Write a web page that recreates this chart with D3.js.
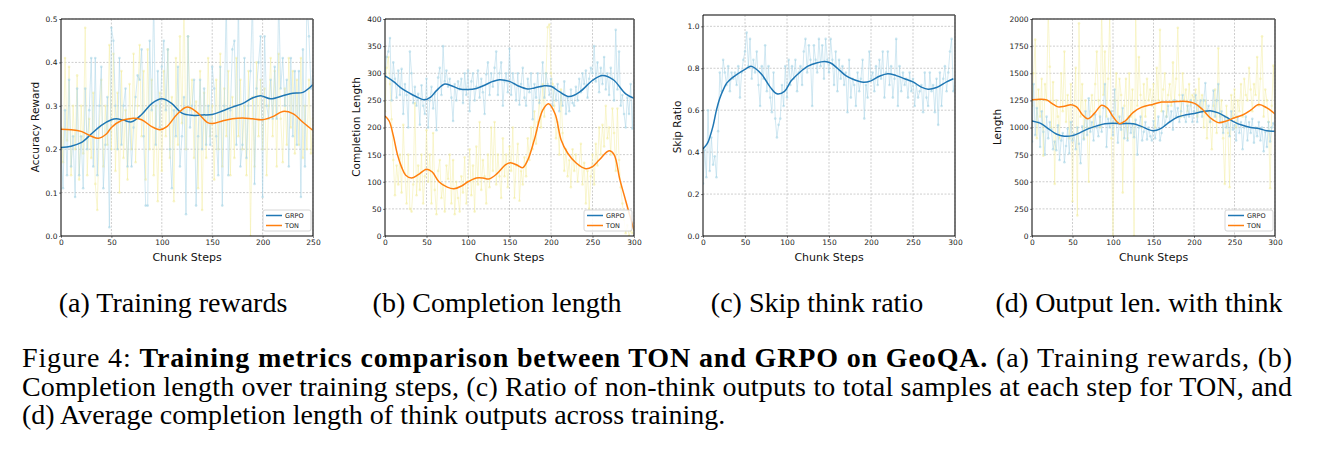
<!DOCTYPE html>
<html>
<head>
<meta charset="utf-8">
<script src="https://cdn.jsdelivr.net/npm/d3@7"></script>
<style>
  body { margin: 0; background: #fff; }
  svg { display: block; }
</style>
</head>
<body>
<svg id="fig" width="1318" height="451"></svg>
<script>
// raw values are one point every RAW_STRIDE chunk steps
const RAW_STRIDE = 2

// (a) training rewards
const aRawGrpo = [0.20,0.11,0.29,0.14,0.36, 0.16,0.23,0.09,0.34,0.14, 0.23,0.11,0.34,0.20,0.29, 0.41,0.16,0.41,0.14,0.30,
  0.39,0.11,0.21,0.32,0.02, 0.48,0.45,0.30,0.20,0.41, 0.21,0.30,0.34,0.16,0.27, 0.16,0.25,0.32,0.37,0.36,
  0.43,0.23,0.07,0.07,0.45, 0.29,0.55,0.21,0.38,0.25, 0.39,0.45,0.29,0.43,0.20, 0.11,0.29,0.23,0.39,0.16,
  0.23,0.32,0.05,0.46,0.25, 0.30,0.36,0.07,0.23,0.36, 0.20,0.34,0.21,0.30,0.21, 0.39,0.34,0.23,0.14,0.39,
  0.07,0.30,0.55,0.14,0.29, 0.43,0.45,0.21,0.55,0.16, 0.21,0.41,0.18,0.30,0.38, 0.55,0.12,0.34,0.40,0.46,
  0.09,0.46,0.30,0.27,0.36, 0.27,0.39,0.27,0.55,0.34, 0.41,0.30,0.36,0.16,0.41, 0.23,0.38,0.21,0.38,0.09,
  0.43,0.16,0.55,0.46,0.34, 0.38]
const aRawTon = [0.25,0.17,0.41,0.22,0.39, 0.14,0.30,0.20,0.37,0.13, 0.30,0.19,0.48,0.14,0.27, 0.18,0.33,0.12,0.06,0.25,
  0.36,0.16,0.30,0.21,0.44, 0.20,0.42,0.15,0.33,0.10, 0.38,0.18,0.29,0.13,0.35, 0.20,0.42,0.17,0.30,0.44,
  0.23,0.38,0.13,0.43,0.20, 0.36,0.14,0.30,0.08,0.33, 0.15,0.38,0.23,0.43,0.18, 0.32,0.08,0.41,0.21,0.46,
  0.26,0.55,0.20,0.46,0.29, 0.36,0.18,0.31,0.11,0.38, 0.06,0.33,0.18,0.41,0.23, 0.30,0.13,0.36,0.20,0.42,
  0.16,0.34,0.23,0.38,0.14, 0.32,0.18,0.41,0.23,0.36, 0.20,0.30,0.14,0.38,0.00, 0.32,0.16,0.40,0.23,0.36,
  0.20,0.34,0.14,0.30,0.41, 0.23,0.38,0.16,0.42,0.27, 0.17,0.34,0.21,0.41,0.25, 0.38,0.19,0.36,0.21,0.41,
  0.18,0.30,0.20,0.36,0.19, 0.27]
const aSmoothGrpoX = [0,10,20,30,40,50,55,62,70,80,90,100,110,120,130,140,150,160,170,180,190,198,208,220,230,240,250]
const aSmoothGrpoY = [0.204,0.207,0.215,0.235,0.255,0.268,0.270,0.267,0.263,0.280,0.305,0.316,0.305,0.283,0.278,0.279,0.280,0.288,0.297,0.305,0.318,0.323,0.316,0.323,0.329,0.331,0.349]
const aSmoothTonX = [0,10,20,30,37,45,50,60,70,80,90,98,105,115,125,135,145,150,160,170,180,190,200,210,220,230,240,250]
const aSmoothTonY = [0.246,0.245,0.241,0.230,0.225,0.235,0.250,0.266,0.271,0.268,0.252,0.245,0.252,0.280,0.297,0.285,0.262,0.259,0.265,0.270,0.272,0.270,0.268,0.275,0.287,0.282,0.262,0.243]

// (b) completion length
const bRawGrpo = [300,330,340,365,250, 320,290,255,305,260, 308,225,280,260,200, 340,300,245,275,240,
  262,205,278,240,225, 290,200,250,275,235, 262,195,292,310,260, 350,285,305,275,290,
  255,212,280,250,285, 270,290,245,300,260, 305,230,285,300,250, 275,305,255,290,265,
  225,298,320,260,300, 275,310,340,260,300, 320,240,285,300,265, 345,260,300,280,250,
  300,242,280,310,255, 240,290,265,300,215, 280,255,300,245,275, 320,255,300,280,260,
  290,240,275,250,280, 230,265,240,285,225, 255,230,270,245,240, 275,250,290,265,300,
  280,305,255,290,310, 300,350,285,320,265, 310,280,330,270,300, 260,310,290,250,380,
  270,340,240,260,225, 200,255,225,280,198, 285]
const bRawTon = [230,310,330,280,215, 140,75,130,95,150, 80,205,115,60,150, 50,45,95,245,75,
  130,85,150,60,110, 195,100,150,60,190, 85,40,120,140,70, 95,45,130,105,150,
  60,140,40,100,70, 45,110,80,145,60, 100,160,75,130,45, 165,95,210,85,140,
  110,60,150,90,200, 120,210,95,150,110, 70,180,110,150,90, 165,120,200,70,130,
  170,65,120,95,145, 110,180,140,200,160, 230,170,210,250,200, 280,220,300,385,390,
  300,280,240,180,210, 150,270,190,120,160, 110,140,90,160,120, 150,100,130,170,95,
  135,60,120,50,110, 150,95,170,130,200, 150,205,165,240,180, 200,150,235,190,120,
  235,140,90,60,30, 5,20,0,10,5, 15]
const bSmoothGrpoX = [0,10,20,30,40,47,55,62,72,80,90,100,110,120,130,138,150,160,172,180,192,200,210,222,235,250,262,275,290,300]
const bSmoothGrpoY = [295,285,272,263,255,251,256,268,280,277,271,270,272,278,285,288,285,277,271,273,277,276,266,257,266,287,296,288,262,254]
const bSmoothTonX = [0,5,10,15,20,25,32,40,50,57,65,75,83,92,100,110,118,125,135,145,151,160,166,172,180,190,197,205,212,220,230,242,250,258,270,276,283,290,300]
const bSmoothTonY = [221,212,185,150,127,112,107,113,123,118,100,90,87,92,100,107,107,105,115,131,135,130,126,140,178,232,244,225,178,153,135,124,128,140,157,150,104,65,10]

// (c) skip think ratio (TON only)
const cRaw = [0.25,0.41,0.28,0.60,0.31, 0.47,0.34,0.38,0.28,0.50, 0.78,0.69,0.84,0.78,0.72, 0.81,0.69,0.78,0.75,0.78,
  0.72,0.81,0.66,0.78,0.84, 0.88,0.97,0.81,0.94,0.75, 0.84,0.78,0.88,0.72,0.62, 0.81,0.75,0.91,0.69,0.81,
  0.66,0.59,0.78,0.56,0.47, 0.53,0.56,0.72,0.62,0.81, 0.66,0.84,0.72,0.81,0.75, 0.84,0.69,0.78,0.81,0.72,
  0.88,0.94,0.78,0.91,0.84, 0.62,0.91,0.84,0.78,0.94, 0.81,0.91,0.75,0.94,0.84, 0.78,0.94,0.84,0.72,0.88,
  0.69,0.84,0.75,0.81,0.72, 0.78,0.59,0.84,0.66,0.75, 0.72,0.62,0.78,0.69,0.75, 0.84,0.56,0.72,0.66,0.88,
  0.75,0.78,0.69,0.81,0.72, 0.84,0.75,0.88,0.66,0.78, 0.88,0.72,0.81,0.66,0.75, 0.94,0.62,0.81,0.69,0.78,
  0.72,0.75,0.66,0.78,0.69, 0.75,0.62,0.72,0.66,0.69, 0.72,0.59,0.78,0.66,0.62, 0.78,0.69,0.72,0.59,0.75,
  0.53,0.78,0.62,0.75,0.81, 0.69,0.78,0.88,0.94,0.69, 0.75]
const cSmoothX = [0,5,8,12,16,20,25,28,35,40,50,57,62,70,80,88,97,105,115,125,135,145,152,160,170,180,191,200,210,220,230,240,250,260,268,278,290,298]
const cSmoothY = [0.415,0.44,0.47,0.525,0.60,0.657,0.705,0.728,0.755,0.77,0.795,0.81,0.80,0.77,0.71,0.678,0.69,0.74,0.78,0.81,0.825,0.832,0.825,0.80,0.765,0.745,0.733,0.74,0.762,0.774,0.765,0.75,0.735,0.71,0.70,0.708,0.735,0.75]

// (d) output length with think
const dRawGrpo = [870,1400,930,1180,1050, 820,1150,960,750,1100, 900,1050,980,800,870, 790,1020,700,880,950,
  680,830,990,760,1050, 880,940,800,1000,850, 670,1010,890,1150,930, 1270,960,1050,880,1120,
  1000,920,1100,960,1180, 1400,820,1080,1000,1150, 930,1350,1050,860,1100, 980,1180,900,1050,880,
  1100,950,1030,910,1070, 750,1000,1100,880,960, 1050,890,1000,920,880, 1060,900,980,1100,880,
  950,1150,1020,1100,1200, 1050,1150,980,1250,1100, 1180,1050,1150,1300,1100, 1050,1200,1100,1250,1050,
  1150,1300,1050,1200,1250, 1100,1250,1410,1150,1200, 1050,1150,1340,1100,1250, 1400,1050,1150,950,1100,
  1000,1080,920,1150,980, 1020,880,1100,950,1050, 800,1000,1100,880,1050, 950,1080,860,1000,920,
  1050,880,1000,780,960, 820,1050,870,1000,1040, 960]
const dRawTon = [1200,1500,1810,900,1350, 1100,1450,740,1400,1250, 2100,1560,1000,1420,480, 1250,1100,900,1500,1150,
  1700,1050,1300,900,1400, 320,1200,1550,190,1960, 1100,1400,900,1250,1000, 500,1150,1300,1000,1400,
  1700,1250,1000,2100,1300, 1700,1100,1450,2050,900, 0,1250,1500,1050,1450, 1300,400,1200,1450,900,
  1500,1100,1350,0,2100, 1200,1650,1300,1000,1400, 1100,1450,1250,1350,1200, 1400,1000,1550,1250,1900,
  1150,1350,1500,1100,1300, 1400,1200,1600,1250,1450, 1920,1300,1100,1500,1250, 1350,1150,1400,1200,1300,
  1250,1350,1100,1450,1150, 1300,1000,1250,900,1150, 1050,800,1200,1350,950, 1730,1100,1250,900,480,
  1200,950,450,1300,1100, 1350,1000,1250,1150,1400, 1100,1450,1300,1250,1550, 1350,1150,1400,1300,1650,
  1200,1450,1840,1100,1350, 1250,1050,440,1200,1570, 1100]
const dSmoothGrpoX = [0,10,20,30,40,50,60,70,80,90,100,110,125,135,150,160,170,180,190,200,210,220,230,240,250,260,270,280,290,300]
const dSmoothGrpoY = [1061,1040,990,940,920,925,955,990,1015,1035,1040,1035,1035,1010,970,995,1052,1097,1117,1130,1145,1155,1135,1095,1050,1020,1000,990,970,965]
const dSmoothTonX = [0,10,18,25,32,40,48,55,62,69,77,86,93,100,108,115,125,135,150,160,170,180,190,200,210,220,230,240,250,260,270,280,290,300]
const dSmoothTonY = [1255,1260,1255,1220,1190,1195,1210,1190,1120,1080,1130,1205,1180,1100,1035,1060,1140,1185,1215,1235,1235,1240,1240,1225,1170,1090,1045,1060,1090,1115,1160,1212,1180,1125]

const subCaptions = ["(a) Training rewards", "(b) Completion length", "(c) Skip think ratio", "(d) Output len. with think"]

const GRPO = "#1f77b4", TON = "#ff7f0e"
const RAW_BLUE = "#a9d5e6", RAW_YELLOW = "#f3eda0"

const svg = d3.select("#fig")
svg.append("rect").attr("width", 1318).attr("height", 451).style("fill", "#fff")

function drawPanel(p, idx) {
    let g = svg.append("g").attr("transform", "translate(" + p.left + "," + p.top + ")")
    let x = d3.scaleLinear().domain([0, p.xMax]).range([0, p.width])
    let y = d3.scaleLinear().domain(p.yDomain).range([p.height, 0])

    //网格
    g.selectAll(".gx").data(p.xTicks.slice(1)).enter().append("line")
        .attr("x1", d => x(d)).attr("x2", d => x(d))
        .attr("y1", 0).attr("y2", p.height)
        .style("stroke", "#b8b8b8").style("stroke-width", 0.7).style("stroke-dasharray", "2,1.5")
    g.selectAll(".gy").data(p.yTicks.slice(1)).enter().append("line")
        .attr("x1", 0).attr("x2", p.width)
        .attr("y1", d => y(d)).attr("y2", d => y(d))
        .style("stroke", "#b8b8b8").style("stroke-width", 0.7).style("stroke-dasharray", "2,1.5")

    let clipId = "clip" + idx
    g.append("clipPath").attr("id", clipId).append("rect")
        .attr("width", p.width).attr("height", p.height)
    let plot = g.append("g").attr("clip-path", "url(#" + clipId + ")")

    let rawLine = d3.line().x((d, i) => x(i * RAW_STRIDE)).y(d => y(d))
    p.raw.forEach(function (s) {
        plot.append("path").datum(s.values).attr("d", rawLine)
            .style("fill", "none").style("stroke", s.color)
            .style("stroke-width", 0.9).style("opacity", s.opacity)
        plot.selectAll(null).data(s.values).enter().append("circle")
            .attr("cx", (d, i) => x(i * RAW_STRIDE)).attr("cy", d => y(d)).attr("r", 1.3)
            .style("fill", s.color).style("opacity", s.opacity)
    })

    let smoothLine = d3.line().curve(d3.curveCatmullRom.alpha(0.5))
        .x(d => x(d[0])).y(d => y(d[1]))
    p.smooth.forEach(function (s) {
        plot.append("path").datum(d3.zip(s.xs, s.ys)).attr("d", smoothLine)
            .style("fill", "none").style("stroke", s.color).style("stroke-width", 1.5)
    })

    // axes
    let xAxis = g.append("g").attr("transform", "translate(0," + p.height + ")")
        .call(d3.axisBottom(x).tickValues(p.xTicks).tickSize(2).tickPadding(2))
    let yAxis = g.append("g")
        .call(d3.axisLeft(y).tickValues(p.yTicks).tickFormat(p.yFormat).tickSize(2).tickPadding(1.5))
    ;[xAxis, yAxis].forEach(function (a) {
        a.select(".domain").remove()
        a.selectAll("text").style("font-family", "'DejaVu Sans', sans-serif")
            .style("font-size", "7.5px").style("fill", "#222")
        a.selectAll("line").style("stroke", "#333").style("stroke-width", 0.6)
    })

    // spines
    g.append("line").attr("x1", 0).attr("x2", p.width).attr("y1", 0).attr("y2", 0)
        .style("stroke", "#555").style("stroke-width", 1.6)
    g.append("line").attr("x1", p.width).attr("x2", p.width).attr("y1", 0).attr("y2", p.height)
        .style("stroke", "#555").style("stroke-width", 1.6)
    g.append("line").attr("x1", 0).attr("x2", 0).attr("y1", 0).attr("y2", p.height)
        .style("stroke", "#000").style("stroke-width", 1)
    g.append("line").attr("x1", 0).attr("x2", p.width).attr("y1", p.height).attr("y2", p.height)
        .style("stroke", "#000").style("stroke-width", 1)

    g.append("text").text("Chunk Steps")
        .attr("x", p.width / 2).attr("y", 236 - p.top + 25)
        .attr("text-anchor", "middle")
        .style("font-family", "'DejaVu Sans', sans-serif").style("font-size", "11px").style("fill", "#111")
    g.append("text").text(p.yLabel)
        .attr("transform", "translate(" + (p.labelX - p.left) + "," + (127 - p.top) + ") rotate(-90)")
        .attr("text-anchor", "middle").attr("dy", "0.35em")
        .style("font-family", "'DejaVu Sans', sans-serif").style("font-size", "10.5px").style("fill", "#111")

    if (p.legend) {
        let lg = g.append("g").attr("transform", "translate(" + (p.width - 50) + "," + (p.height - 26) + ")")
        lg.append("rect").attr("width", 48).attr("height", 21).attr("rx", 2).attr("ry", 2)
            .style("fill", "#fff").style("fill-opacity", 0.85)
            .style("stroke", "#cccccc").style("stroke-width", 0.8)
        let items = [["GRPO", GRPO], ["TON", TON]]
        items.forEach(function (it, i) {
            lg.append("line").attr("x1", 3).attr("x2", 19).attr("y1", 5.5 + i * 10).attr("y2", 5.5 + i * 10)
                .style("stroke", it[1]).style("stroke-width", 1.5)
            lg.append("text").text(it[0]).attr("x", 22).attr("y", 5.5 + i * 10).attr("dy", "0.35em")
                .style("font-family", "'DejaVu Sans', sans-serif").style("font-size", "6.5px").style("fill", "#222")
        })
    }
}

const fmt1 = d3.format(".1f"), fmt0 = d3.format("d")
const panels = [
    { left: 61, top: 19, width: 252, height: 217, xMax: 250, xTicks: [0, 50, 100, 150, 200, 250],
      yDomain: [0, 0.5], yTicks: [0, 0.1, 0.2, 0.3, 0.4, 0.5], yFormat: fmt1, yLabel: "Accuracy Reward", labelX: 35,
      raw: [{ values: aRawTon, color: RAW_YELLOW, opacity: 0.55 }, { values: aRawGrpo, color: RAW_BLUE, opacity: 0.6 }],
      smooth: [{ xs: aSmoothGrpoX, ys: aSmoothGrpoY, color: GRPO }, { xs: aSmoothTonX, ys: aSmoothTonY, color: TON }],
      legend: true },
    { left: 385, top: 19, width: 249, height: 217, xMax: 300, xTicks: [0, 50, 100, 150, 200, 250, 300],
      yDomain: [0, 400], yTicks: [0, 50, 100, 150, 200, 250, 300, 350, 400], yFormat: fmt0, yLabel: "Completion Length", labelX: 356,
      raw: [{ values: bRawTon, color: RAW_YELLOW, opacity: 0.55 }, { values: bRawGrpo, color: RAW_BLUE, opacity: 0.6 }],
      smooth: [{ xs: bSmoothGrpoX, ys: bSmoothGrpoY, color: GRPO }, { xs: bSmoothTonX, ys: bSmoothTonY, color: TON }],
      legend: true },
    { left: 703, top: 15, width: 252, height: 221, xMax: 300, xTicks: [0, 50, 100, 150, 200, 250, 300],
      yDomain: [0, 1.054], yTicks: [0, 0.2, 0.4, 0.6, 0.8, 1.0], yFormat: fmt1, yLabel: "Skip Ratio", labelX: 677,
      raw: [{ values: cRaw, color: RAW_BLUE, opacity: 0.6 }],
      smooth: [{ xs: cSmoothX, ys: cSmoothY, color: GRPO }],
      legend: false },
    { left: 1032, top: 19, width: 243, height: 217, xMax: 300, xTicks: [0, 50, 100, 150, 200, 250, 300],
      yDomain: [0, 2000], yTicks: [0, 250, 500, 750, 1000, 1250, 1500, 1750, 2000], yFormat: fmt0, yLabel: "Length", labelX: 997,
      raw: [{ values: dRawTon, color: RAW_YELLOW, opacity: 0.55 }, { values: dRawGrpo, color: RAW_BLUE, opacity: 0.6 }],
      smooth: [{ xs: dSmoothGrpoX, ys: dSmoothGrpoY, color: GRPO }, { xs: dSmoothTonX, ys: dSmoothTonY, color: TON }],
      legend: true }
]
panels.forEach(drawPanel)

// sub captions
const capCenters = [173, 497, 817, 1139]
svg.selectAll(".subcap").data(subCaptions).enter().append("text")
    .attr("class", "subcap")
    .text(d => d)
    .attr("x", (d, i) => capCenters[i]).attr("y", 312)
    .attr("text-anchor", "middle")
    .style("font-family", "'Liberation Serif', 'Times New Roman', serif")
    .style("font-size", "28px").style("fill", "#000")

// figure caption
const serif = "'Liberation Serif', 'Times New Roman', serif"
let l1 = svg.append("text").attr("x", 22).attr("y", 367)
    .attr("textLength", 1270).attr("lengthAdjust", "spacing")
    .style("font-family", serif).style("font-size", "28px")
l1.append("tspan").text("Figure 4: ")
l1.append("tspan").style("font-weight", "bold").text("Training metrics comparison between TON and GRPO on GeoQA.")
l1.append("tspan").text(" (a) Training rewards, (b)")
svg.append("text").attr("x", 22).attr("y", 396)
    .attr("textLength", 1270).attr("lengthAdjust", "spacing")
    .style("font-family", serif).style("font-size", "28px")
    .text("Completion length over training steps, (c) Ratio of non-think outputs to total samples at each step for TON, and")
svg.append("text").attr("x", 22).attr("y", 424)
    .style("font-family", serif).style("font-size", "28px")
    .text("(d) Average completion length of think outputs across training.")
</script>
</body>
</html>
